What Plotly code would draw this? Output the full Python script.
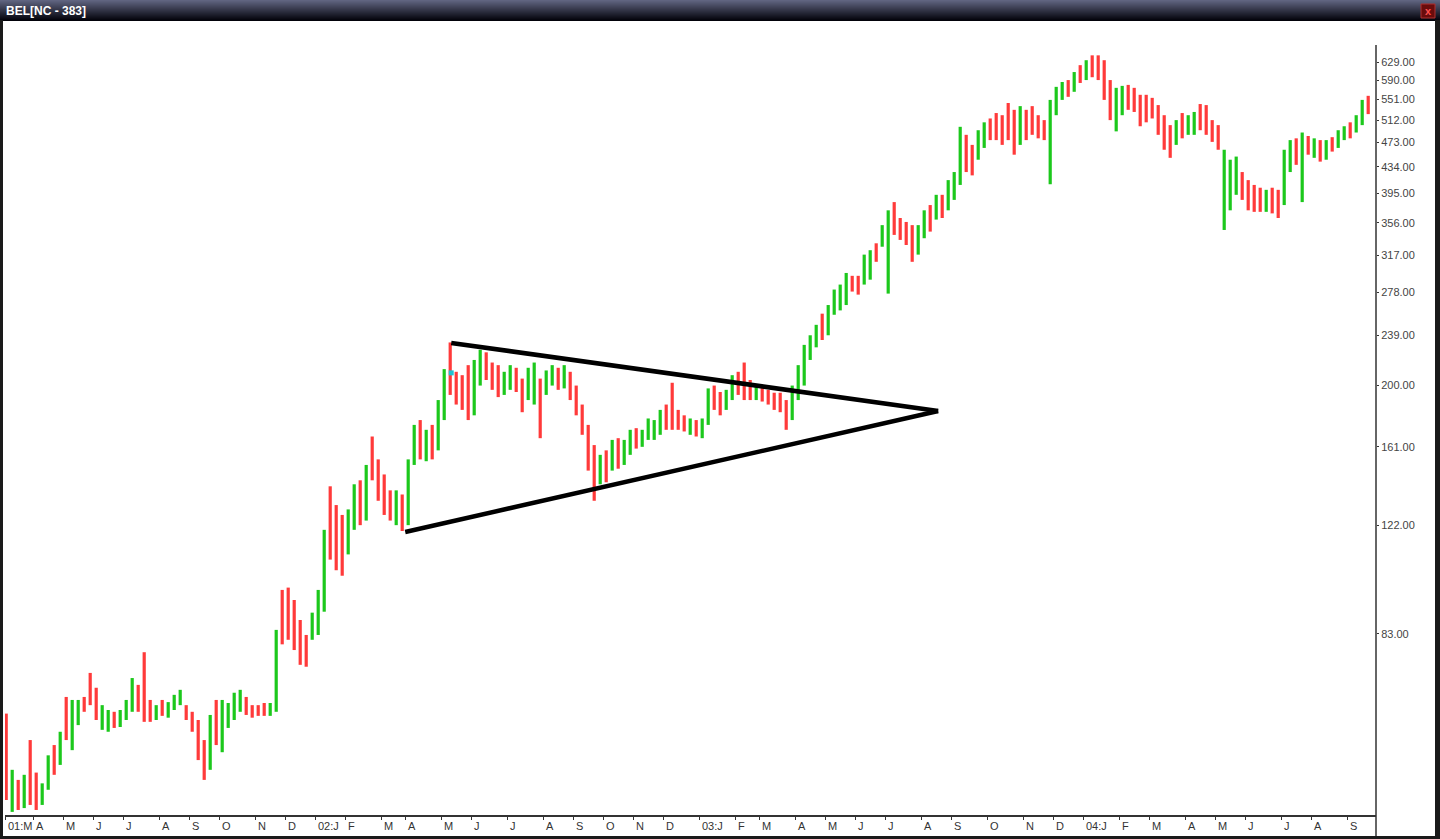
import plotly.graph_objects as go

# ---------------- data ----------------
month_labels = ["01:M", "A", "M", "J", "J", "A", "S", "O", "N", "D",
                "02:J", "F", "M", "A", "M", "J", "J", "A", "S", "O", "N", "D",
                "03:J", "F", "M", "A", "M", "J", "J", "A", "S", "O", "N", "D",
                "04:J", "F", "M", "A", "M", "J", "J", "A", "S"]
bars_per_month = [5, 5, 5, 5, 6, 5, 5, 6, 5, 5,
                  5, 6, 4, 6, 5, 6, 6, 5, 5, 5, 5, 6,
                  6, 4, 6, 5, 5, 5, 6, 5, 6, 6, 5, 5,
                  6, 5, 6, 5, 5, 6, 5, 6, 4]

highs = [62.6, 51.3, 49.5, 50.4, 57.0, 50.8, 48.9, 54.0, 56.0, 58.7,
         66.4, 65.7, 65.7, 66.4, 72.3, 68.6, 64.5, 63.4, 63.0, 63.4,
         65.7, 71.0, 69.3, 77.8, 65.7, 64.5, 65.7, 65.2, 66.9, 68.1,
         64.5, 63.0, 61.2, 57.0, 62.3, 65.7, 65.7, 65.0, 67.4, 68.1,
         66.4, 64.5, 64.5, 65.0, 65.0, 84.2, 97.0, 97.8, 93.6, 87.2,
         82.7, 89.5, 97.0, 120, 140, 131, 126.5, 129, 141, 143,
         151, 167, 154, 146, 138, 138, 136, 154, 174, 177,
         171, 174, 190, 212, 233, 210, 207.5, 215, 219, 227,
         225, 217, 215, 210, 215, 213, 205, 213, 217, 205,
         211, 215, 213, 215, 210, 200, 187, 174, 162, 156.5,
         159, 165, 166, 165, 171, 172, 171, 178, 177, 183.5,
         187, 202, 183.5, 180, 178, 177, 178, 198, 200, 195.5,
         197, 207.5, 210, 217, 204, 201, 200, 197, 195, 195,
         190, 200, 215, 231, 239, 248, 258, 266, 281, 286,
         298, 295, 295, 318, 323, 331, 353, 372, 383, 362,
         357, 353, 353, 372, 379, 393, 393, 414, 426, 500,
         486, 469, 494, 508, 515, 525, 521, 544, 531, 538,
         531, 538, 521, 512, 550, 576, 586, 590, 607, 622,
         633, 644, 644, 633, 590, 574, 578, 580, 574, 560,
         560, 554, 540, 521, 503, 512, 525, 521, 527, 542,
         540, 512, 503, 461, 445, 450, 426, 414, 407, 403,
         400, 403, 400, 461, 477, 480, 490, 484, 480, 477,
         477, 482, 494, 501, 508, 521, 550, 558]

lows = [46.1, 44.2, 44.5, 44.8, 45.3, 44.5, 45.3, 47.8, 50.4, 52.2,
        57.0, 55.0, 60.1, 63.0, 64.5, 61.2, 59.1, 58.7, 59.5, 59.7,
        61.2, 63.0, 63.0, 60.8, 60.8, 61.2, 62.1, 61.7, 63.4, 64.5,
        61.2, 58.7, 53.1, 49.5, 51.3, 56.0, 54.6, 59.5, 61.2, 63.0,
        62.3, 61.7, 62.1, 62.1, 62.1, 63.0, 80.0, 81.3, 78.4, 74.4,
        73.9, 81.3, 82.7, 89.8, 108, 104, 102, 110, 120, 122,
        124, 143, 133, 126.5, 124, 122, 119.5, 122, 151, 154,
        153, 154, 159, 177, 193.5, 187, 183.5, 177, 180, 200,
        204, 197, 192, 193.5, 197, 195.5, 182, 190, 187, 166,
        193.5, 200, 197, 198, 190, 180, 168, 148, 133, 141,
        142, 148, 149, 151, 156.5, 160, 161, 165, 165, 168,
        171, 171, 171, 170, 168, 167, 166, 174, 183.5, 180,
        183.5, 190, 193.5, 190, 190, 190, 189, 187, 183.5, 182,
        171, 177, 190, 200, 219, 229, 235, 239, 257, 261,
        266, 279, 276, 286, 291, 310, 327, 277, 341, 335,
        329, 310, 318, 337, 345, 360, 362, 372, 386, 407,
        426, 421, 445, 464, 477, 477, 469, 477, 453, 469,
        477, 486, 480, 477, 408, 521, 550, 556, 566, 584,
        590, 596, 590, 550, 512, 492, 521, 531, 527, 501,
        508, 515, 486, 461, 448, 469, 480, 486, 486, 494,
        486, 474, 461, 347, 372, 393, 386, 372, 370, 370,
        370, 368, 362, 379, 426, 437, 383, 453, 448, 442,
        445, 458, 464, 477, 480, 490, 503, 523]

direction = list("rgrgrrggrg" "rggrrrggrg" "ggrrrgrggg" "rrrrgrgggg"
                 "rrrrggrrrr" "rgggrrrggr" "grrrrgrggr" "grggrrrrgg"
                 "rrrggrrggr" "ggrgrrrrrg" "rgrggrgggg" "rrrrgrggrr"
                 "ggrrrgrrrr" "rgggggrggg" "grrggrggrr" "rrggrgrggg"
                 "rrggrrrrrg" "rrrrgggrgr" "grrrrggrrr" "rrrrrgrggr"
                 "rrrgggrrrr" "grrggrgrgr" "grggrggr")

y_ticks = [83, 122, 161, 200, 239, 278, 317, 356, 395, 434, 473, 512, 551, 590, 629]

# drawn trend lines of the triangle: (bar position, price)
upper_line = [(74.17, 232.6), (155.33, 182.8)]
lower_line = [(66.5, 119.1), (155.33, 182.8)]
marker_point = (74.17, 209.2)

title_text = "BEL[NC - 383]"

# ---------------- geometry ----------------
W, H = 1440, 839
ML, MR, MT, MB = 5, 64, 22, 24
PW, PH = W - ML - MR, H - MT - MB
X0 = -0.2
X1 = X0 + PW / 6.0
Y_LOG = (1.64063, 2.86016)


def fx(px):
    return (px - ML) / PW


def fy(py):
    return (H - MB - py) / PH


bar_x = list(range(len(highs)))

fig = go.Figure()
for code, col in (("g", "#1cc81c"), ("r", "#ff3a3a")):
    xs, ys = [], []
    for i, d in enumerate(direction):
        if d == code:
            xs += [bar_x[i], bar_x[i], None]
            ys += [lows[i], highs[i], None]
    fig.add_trace(go.Scatter(x=xs, y=ys, mode="lines",
                             line=dict(color=col, width=3.2),
                             hoverinfo="skip", showlegend=False))

for ln in (upper_line, lower_line):
    fig.add_trace(go.Scatter(x=[p[0] for p in ln], y=[p[1] for p in ln],
                             mode="lines", line=dict(color="black", width=4.5),
                             hoverinfo="skip", showlegend=False))

fig.add_trace(go.Scatter(x=[marker_point[0]], y=[marker_point[1]], mode="markers",
                         marker=dict(color="#20c0d0", size=5, symbol="square"),
                         hoverinfo="skip", showlegend=False))

# month ticks
starts = []
acc = 0
for n in bars_per_month:
    starts.append(max(X0, acc - 0.5))
    acc += n

annotations = []
for pos, lab in zip(starts, month_labels):
    annotations.append(dict(x=pos, y=fy(826), xref="x", yref="paper", text=lab,
                            showarrow=False, xanchor="left", yanchor="middle", xshift=1,
                            font=dict(family="Liberation Sans, Arial", size=11, color="#333")))

annotations.append(dict(x=fx(4), y=fy(11), xref="paper", yref="paper", text="<b>" + title_text + "</b>",
                        showarrow=False, xanchor="left", yanchor="middle",
                        font=dict(family="Liberation Sans, Arial", size=12, color="white")))
annotations.append(dict(x=fx(1428), y=fy(11), xref="paper", yref="paper", text="<b>x</b>",
                        showarrow=False, xanchor="center", yanchor="middle",
                        font=dict(family="Liberation Sans, Arial", size=11, color="#ff5050")))

shapes = []
# title bar gradient
top_c, bot_c = (96, 100, 128), (2, 2, 10)
for i in range(21):
    t = i / 20.0
    c = tuple(int(top_c[k] + (bot_c[k] - top_c[k]) * t) for k in range(3))
    shapes.append(dict(type="rect", xref="paper", yref="paper",
                       x0=fx(0), x1=fx(W), y0=fy(i + 1), y1=fy(i),
                       fillcolor="rgb(%d,%d,%d)" % c, line=dict(width=0), layer="above"))
# close button
shapes.append(dict(type="rect", xref="paper", yref="paper", x0=fx(1421), x1=fx(1435),
                   y0=fy(18), y1=fy(4), fillcolor="#6a0c0c", line=dict(color="#b03030", width=1),
                   layer="above"))
# window borders
for (a, b, c, d) in ((0, 20, 3, H), (1435, 20, W, H), (0, 836, W, H)):
    shapes.append(dict(type="rect", xref="paper", yref="paper", x0=fx(a), x1=fx(c),
                       y0=fy(d), y1=fy(b), fillcolor="#1a1a1a", line=dict(width=0), layer="above"))
# price axis line
shapes.append(dict(type="line", xref="paper", yref="paper", x0=1, x1=1,
                   y0=fy(836), y1=fy(45), line=dict(color="#333", width=1.5), layer="above"))

fig.update_layout(
    width=W, height=H,
    margin=dict(l=ML, r=MR, t=MT, b=MB, pad=0),
    paper_bgcolor="white", plot_bgcolor="white",
    showlegend=False, hovermode=False,
    annotations=annotations, shapes=shapes,
    xaxis=dict(range=[X0, X1], tickvals=starts, ticktext=[""] * len(starts),
               showgrid=False, zeroline=False, showline=True, linecolor="#333", linewidth=2,
               ticks="outside", ticklen=3, tickcolor="#333", fixedrange=True),
    yaxis=dict(type="log", range=list(Y_LOG), side="right", tickvals=y_ticks,
               ticktext=["%.2f" % v for v in y_ticks], showgrid=False, zeroline=False,
               showline=False, ticks="outside", ticklen=2, tickcolor="#333",
               tickfont=dict(family="Liberation Sans, Arial", size=11, color="#444"),
               fixedrange=True),
)

fig.write_html("out.html", config={"displayModeBar": False},
               post_script="document.body.style.margin='0';document.body.style.overflow='hidden';")
